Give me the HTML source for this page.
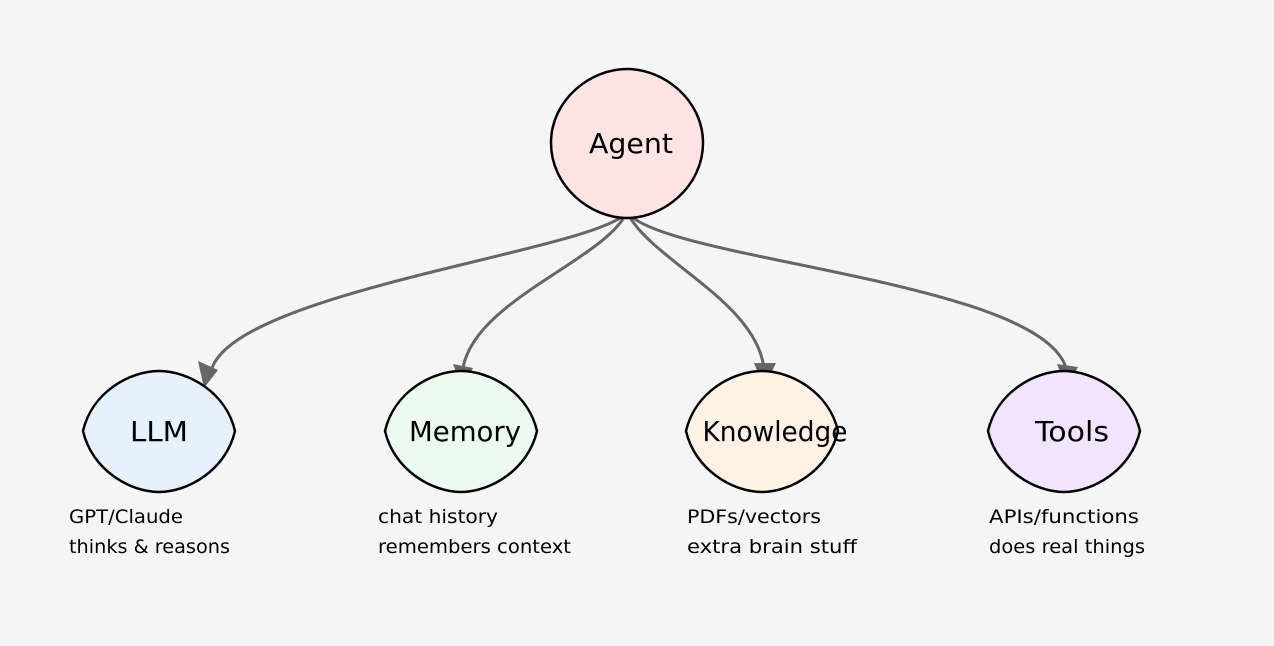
<!DOCTYPE html>
<html><head><meta charset="utf-8"><style>
html,body{margin:0;padding:0;background:#f5f5f5;}
svg{display:block;}
text{font-family:"Comic Sans MS","DejaVu Sans","Liberation Sans",sans-serif;fill:#000;}
</style></head><body>
<svg width="1274" height="646" viewBox="0 0 1274 646" xmlns="http://www.w3.org/2000/svg">
<rect width="1274" height="646" fill="#f5f5f5"/>
<g fill="none" stroke="#666" stroke-width="3">
<path d="M627,212 C600,250 240,290 212,368"/>
<path d="M627,212 C605,260 475,300 463,368"/>
<path d="M627,212 C650,260 755,300 764,368"/>
<path d="M627,212 C660,260 1040,280 1066,368"/>
</g>
<g fill="#666">
<polygon d="" points="198,361 218,370 204,388"/>
<polygon points="453,364 473,368 462,388"/>
<polygon points="754,363 776,363 764,388"/>
<polygon points="1057,364 1078,367 1066,388"/>
<polygon points="620,216 634,216 627,206"/>
</g>
<g stroke="#000" stroke-width="2.5">
<path fill="#fee4e2" d="M551,143 C551,100 590,69 627,69 C664,69 703,100 703,143 C703,186 664,218 627,218 C590,218 551,186 551,143Z"/>
<path fill="#e5f1fd" d="M83,431 C92,392 130,371 159,371 C188,371 226,392 235,431 C226,470 188,492 159,492 C130,492 92,470 83,431Z"/>
<path fill="#ebfbef" d="M385,431 C394,392 432,371 461,371 C490,371 528,392 537,431 C528,470 490,492 461,492 C432,492 394,470 385,431Z"/>
<path fill="#fdf2e4" d="M686,431 C695,392 733,371 762,371 C791,371 829,392 838,431 C829,470 791,492 762,492 C733,492 695,470 686,431Z"/>
<path fill="#f2e4fd" d="M988,431 C997,392 1035,371 1064,371 C1093,371 1131,392 1140,431 C1131,470 1093,492 1064,492 C1035,492 997,470 988,431Z"/>
</g>
<g font-size="28" text-anchor="middle">
<text x="631" y="153" textLength="84" lengthAdjust="spacingAndGlyphs">Agent</text>
<text x="159" y="441" textLength="58" lengthAdjust="spacingAndGlyphs">LLM</text>
<text x="465" y="441" textLength="112" lengthAdjust="spacingAndGlyphs">Memory</text>
<text x="775" y="441" textLength="145" lengthAdjust="spacingAndGlyphs">Knowledge</text>
<text x="1072" y="441" textLength="74" lengthAdjust="spacingAndGlyphs">Tools</text>
</g>
<g font-size="19">
<text x="69" y="523" textLength="114" lengthAdjust="spacingAndGlyphs">GPT/Claude</text>
<text x="69" y="553" textLength="161" lengthAdjust="spacingAndGlyphs">thinks &amp; reasons</text>
<text x="378" y="523" textLength="120" lengthAdjust="spacingAndGlyphs">chat history</text>
<text x="378" y="553" textLength="193" lengthAdjust="spacingAndGlyphs">remembers context</text>
<text x="687" y="523" textLength="134" lengthAdjust="spacingAndGlyphs">PDFs/vectors</text>
<text x="687" y="553" textLength="170" lengthAdjust="spacingAndGlyphs">extra brain stuff</text>
<text x="989" y="523" textLength="150" lengthAdjust="spacingAndGlyphs">APIs/functions</text>
<text x="989" y="553" textLength="156" lengthAdjust="spacingAndGlyphs">does real things</text>
</g>
</svg>
</body></html>
